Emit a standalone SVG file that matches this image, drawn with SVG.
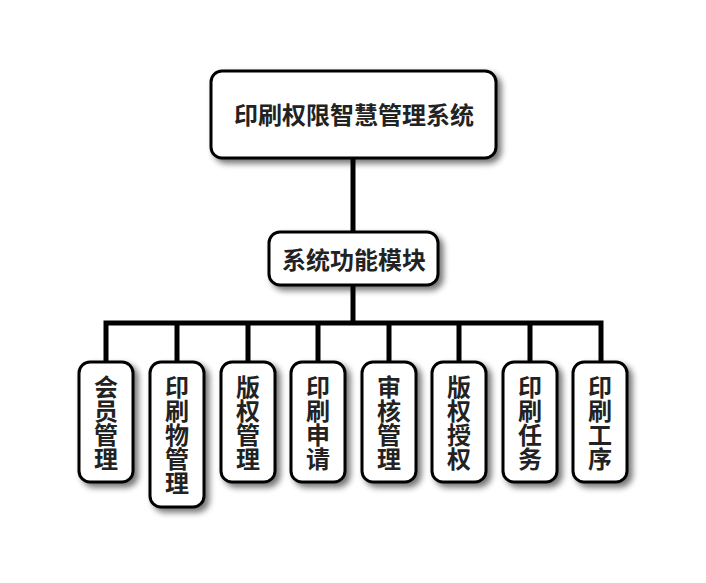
<svg xmlns="http://www.w3.org/2000/svg" width="706" height="583" viewBox="0 0 706 583">
<defs>
<filter id="sh" x="-30%" y="-30%" width="160%" height="160%">
<feGaussianBlur in="SourceAlpha" stdDeviation="3"/>
<feOffset dx="4" dy="4" result="b"/>
<feComponentTransfer><feFuncA type="linear" slope="0.55"/></feComponentTransfer>
<feMerge><feMergeNode/><feMergeNode in="SourceGraphic"/></feMerge>
</filter>
</defs>
<style>
.box{fill:#fff;stroke:#000;stroke-width:3;filter:url(#sh)}
.t{font-family:"Noto Sans CJK SC",sans-serif;font-weight:bold;font-size:24px;fill:#222;text-anchor:middle}
.c{font-family:"Noto Sans CJK SC",sans-serif;font-weight:bold;font-size:24px;fill:#222;writing-mode:vertical-rl;text-orientation:upright}
.ln{stroke:#000;stroke-width:5;fill:none}
</style>
<rect width="706" height="583" fill="#fff"/>
<g id="connectors">
<path class="ln" d="M353 158V232"/>
<path class="ln" d="M353 285V323"/>
<path class="ln" d="M106 362V323H601V362"/>
<path class="ln" d="M177 323V362M248 323V362M318 323V362M389 323V362M459 323V362M530 323V362"/>
</g>
<g id="root"><rect class="box" x="211" y="71" width="285" height="87" rx="11"/><text class="t" x="354" y="124">印刷权限智慧管理系统</text></g>
<g id="mid"><rect class="box" x="269" y="232" width="169" height="53" rx="11"/><text class="t" x="354" y="269">系统功能模块</text></g>
<g id="n1"><rect class="box" x="79" y="362" width="54" height="120" rx="11"/><text class="c" x="106" y="375">会员管理</text></g>
<g id="n2"><rect class="box" x="150" y="362" width="54" height="145" rx="11"/><text class="c" x="177" y="375">印刷物管理</text></g>
<g id="n3"><rect class="box" x="221" y="362" width="54" height="120" rx="11"/><text class="c" x="248" y="375">版权管理</text></g>
<g id="n4"><rect class="box" x="291" y="362" width="54" height="120" rx="11"/><text class="c" x="318" y="375">印刷申请</text></g>
<g id="n5"><rect class="box" x="362" y="362" width="54" height="120" rx="11"/><text class="c" x="389" y="375">审核管理</text></g>
<g id="n6"><rect class="box" x="432" y="362" width="54" height="120" rx="11"/><text class="c" x="459" y="375">版权授权</text></g>
<g id="n7"><rect class="box" x="503" y="362" width="54" height="120" rx="11"/><text class="c" x="530" y="375">印刷任务</text></g>
<g id="n8"><rect class="box" x="573" y="362" width="54" height="120" rx="11"/><text class="c" x="600" y="375">印刷工序</text></g>
</svg>
